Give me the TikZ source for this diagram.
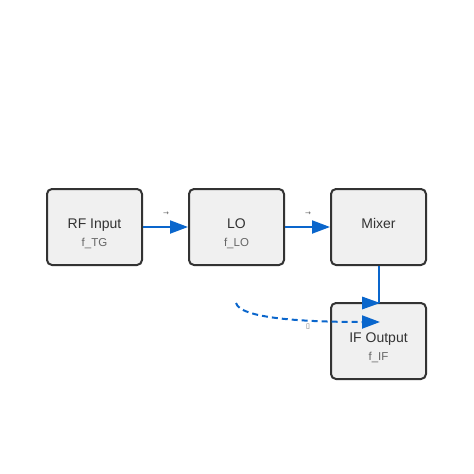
\documentclass[tikz,border=0pt]{standalone}
\usepackage{fontspec}
\setmainfont{Liberation Sans}
\newfontfamily\symfont{DejaVu Sans}
\usetikzlibrary{arrows.meta}
\definecolor{flowblue}{HTML}{0A66CC}
\definecolor{boxfill}{HTML}{F0F0F0}
\definecolor{boxline}{HTML}{333333}
\definecolor{subgrey}{HTML}{666666}
\begin{document}
\begin{tikzpicture}[x=1pt,y=-1pt,
  blockbox/.style={draw=boxline,line width=2pt,fill=boxfill,rounded corners=5pt,
    minimum width=95pt,minimum height=76pt,inner sep=0pt},
  maintext/.style={font=\fontsize{14}{16}\selectfont,text=boxline,inner sep=0pt,anchor=base},
  sublabel/.style={font=\fontsize{11.5}{13}\selectfont,text=subgrey,inner sep=0pt,anchor=base},
  flow/.style={draw=flowblue,line width=2pt,-{Triangle[length=18pt,width=13pt]}},
  dashflow/.style={draw=flowblue,line width=2pt,dash pattern=on 6pt off 4pt,-{Triangle[length=18pt,width=13pt]}},
  tinylabel/.style={font=\symfont\fontsize{7}{8}\selectfont,text=subgrey,inner sep=0pt}]
\useasboundingbox (0,0) rectangle (474,474);
\node[blockbox] (rf) at (94.5,227) {};
\node[blockbox] (lo) at (236.5,227) {};
\node[blockbox] (mx) at (378.5,227) {};
\node[blockbox] (if) at (378.5,341) {};
\node[maintext] (rft) at (94.5,228) {RF Input};
\node[sublabel] (rfs) at (94.5,246.5) {f\_TG};
\node[maintext] (lot) at (236.5,228) {LO};
\node[sublabel] (los) at (236.5,246.5) {f\_LO};
\node[maintext] (mxt) at (378.5,228) {Mixer};
\node[maintext] (ift) at (378.5,342) {IF Output};
\node[sublabel] (ifs) at (378.5,360.5) {f\_IF};
\draw[flow] (rf.east) -- (lo.west);
\draw[flow] (lo.east) -- (mx.west);
\node[tinylabel] (l1) at (166,214) {→};
\node[tinylabel] (l2) at (308,214) {→};
\coordinate (mxturn) at (378.5,303);
\coordinate (mxtip) at (380,303);
\draw[draw=flowblue,line width=2pt] (mx.south) -- (mxturn);
\fill[flowblue] (mxtip) -- ++(-18,-6.5) -- ++(0,13) -- cycle;
\coordinate (dstart) at (236,303);
\coordinate (dtip) at (380,322);
\draw[dashflow] (dstart) .. controls (240,318) and (300,322) .. (dtip);
\node[tinylabel] (l3) at (308,327) {▯};
\end{tikzpicture}
\end{document}
